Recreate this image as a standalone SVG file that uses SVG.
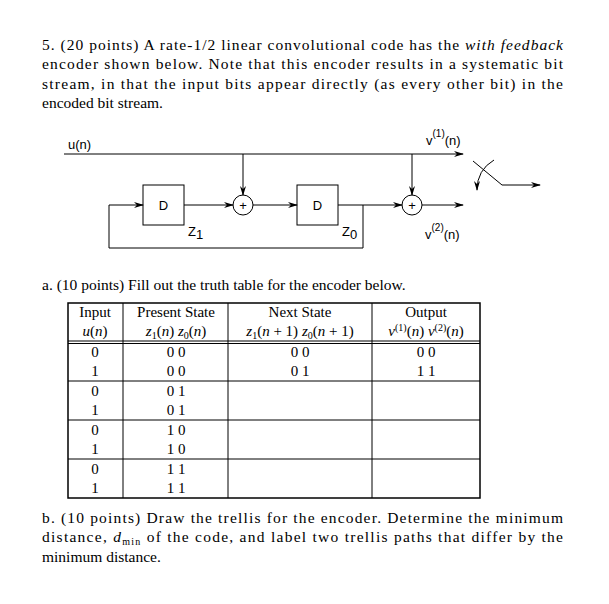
<svg xmlns="http://www.w3.org/2000/svg" width="609" height="604" viewBox="0 0 609 604">
<style>
.t{font-family:"Liberation Serif",serif;font-size:15.5px;fill:#000}
.u{font-family:"Liberation Serif",serif;font-size:15px;fill:#000}
.s{font-family:"Liberation Sans",sans-serif;font-size:13px;fill:#000}
.c{text-anchor:middle}
.l{stroke:#000;stroke-width:1;fill:none}
.g{stroke:#000;stroke-width:1.5;fill:none}
</style>
<defs><marker id="a" markerWidth="10" markerHeight="6" refX="9" refY="3" orient="auto" markerUnits="userSpaceOnUse"><path d="M0,0 L10,3 L0,6 L3,3 z" fill="#000"/></marker></defs>
<rect width="609" height="604" fill="#fff"/>
<g id="text">
<text class="t" x="42" y="50" textLength="521" lengthAdjust="spacing">5. (20 points) A rate-1/2 linear convolutional code has the <tspan font-style="italic">with feedback</tspan></text>
<text class="t" x="42" y="69" textLength="521" lengthAdjust="spacing">encoder shown below. Note that this encoder results in a systematic bit</text>
<text class="t" x="42" y="89" textLength="521" lengthAdjust="spacing">stream, in that the input bits appear directly (as every other bit) in the</text>
<text class="t" x="42" y="108">encoded bit stream.</text>
<text class="t" x="42" y="290">a. (10 points) Fill out the truth table for the encoder below.</text>
<text class="t" x="42" y="523" textLength="521" lengthAdjust="spacing">b. (10 points) Draw the trellis for the encoder. Determine the minimum</text>
<text class="t" x="42" y="542" textLength="521" lengthAdjust="spacing">distance, <tspan font-style="italic">d</tspan><tspan font-size="10" dy="3">min</tspan><tspan dy="-3"> of the code, and label two trellis paths that differ by the</tspan></text>
<text class="t" x="42" y="562">minimum distance.</text>
</g>
<g id="connectors">
<path class="l" d="M64,154 H463" marker-end="url(#a)"/>
<path class="l" d="M243,154 V195" marker-end="url(#a)"/>
<path class="l" d="M412,154 V195" marker-end="url(#a)"/>
<path class="l" d="M184,205 H233" marker-end="url(#a)"/>
<path class="l" d="M253,205 H297" marker-end="url(#a)"/>
<path class="l" d="M338,205 H402" marker-end="url(#a)"/>
<path class="l" d="M422,205 H463" marker-end="url(#a)"/>
<path class="l" d="M363,205 V248 H109 V205 H143" marker-end="url(#a)"/>
<path class="l" d="M473,161 L502,185 H540" marker-end="url(#a)"/>
<path class="l" d="M494,160 Q477,170 477,190" marker-end="url(#a)"/>
</g>
<g id="D1"><rect class="l" x="143" y="185" width="41" height="40"/><text class="s c" x="163.5" y="210">D</text></g>
<g id="D2"><rect class="l" x="297" y="185" width="41" height="40"/><text class="s c" x="317.5" y="210">D</text></g>
<g id="add1"><circle class="l" cx="243" cy="205" r="10"/><text class="s c" x="243" y="209.5" font-size="11">+</text></g>
<g id="add2"><circle class="l" cx="412" cy="205" r="10"/><text class="s c" x="412" y="209.5" font-size="11">+</text></g>
<g id="labels">
<text class="s" x="68" y="149">u(n)</text>
<text class="s" x="426" y="145">v<tspan font-size="10" dy="-8">(1)</tspan><tspan dy="8">(n)</tspan></text>
<text class="s" x="425" y="239">v<tspan font-size="10" dy="-8">(2)</tspan><tspan dy="8">(n)</tspan></text>
<text class="s" x="188" y="236">Z<tspan dy="3">1</tspan></text>
<text class="s" x="342" y="236">Z<tspan dy="3">0</tspan></text>
</g>
<g id="table">
<rect class="g" x="68" y="303" width="412" height="195"/>
<path class="l" d="M123,303 V498 M228,303 V498 M372,303 V498"/>
<path class="l" d="M68,341 H480 M68,343.5 H480 M68,381 H480 M68,420 H480 M68,459 H480"/>
<g class="u c">
<text x="95" y="317">Input</text><text x="95" y="336"><tspan font-style="italic">u</tspan>(<tspan font-style="italic">n</tspan>)</text>
<text x="176" y="317">Present State</text><text x="176" y="336"><tspan font-style="italic">z</tspan><tspan font-size="10" dy="3">1</tspan><tspan dy="-3">(</tspan><tspan font-style="italic">n</tspan>) <tspan font-style="italic">z</tspan><tspan font-size="10" dy="3">0</tspan><tspan dy="-3">(</tspan><tspan font-style="italic">n</tspan>)</text>
<text x="300" y="317">Next State</text><text x="300" y="336"><tspan font-style="italic">z</tspan><tspan font-size="10" dy="3">1</tspan><tspan dy="-3">(</tspan><tspan font-style="italic">n</tspan> + 1) <tspan font-style="italic">z</tspan><tspan font-size="10" dy="3">0</tspan><tspan dy="-3">(</tspan><tspan font-style="italic">n</tspan> + 1)</text>
<text x="426" y="317">Output</text><text x="426" y="336"><tspan font-style="italic">v</tspan><tspan font-size="10" dy="-5">(1)</tspan><tspan dy="5">(</tspan><tspan font-style="italic">n</tspan>) <tspan font-style="italic">v</tspan><tspan font-size="10" dy="-5">(2)</tspan><tspan dy="5">(</tspan><tspan font-style="italic">n</tspan>)</text>
<text x="95" y="357">0</text><text x="95" y="376">1</text><text x="95" y="396">0</text><text x="95" y="415">1</text>
<text x="95" y="435">0</text><text x="95" y="454">1</text><text x="95" y="474">0</text><text x="95" y="493">1</text>
<text x="176" y="357">0 0</text><text x="176" y="376">0 0</text><text x="176" y="396">0 1</text><text x="176" y="415">0 1</text>
<text x="176" y="435">1 0</text><text x="176" y="454">1 0</text><text x="176" y="474">1 1</text><text x="176" y="493">1 1</text>
<text x="300" y="357">0 0</text><text x="300" y="376">0 1</text>
<text x="426" y="357">0 0</text><text x="426" y="376">1 1</text>
</g>
</g>
</svg>
